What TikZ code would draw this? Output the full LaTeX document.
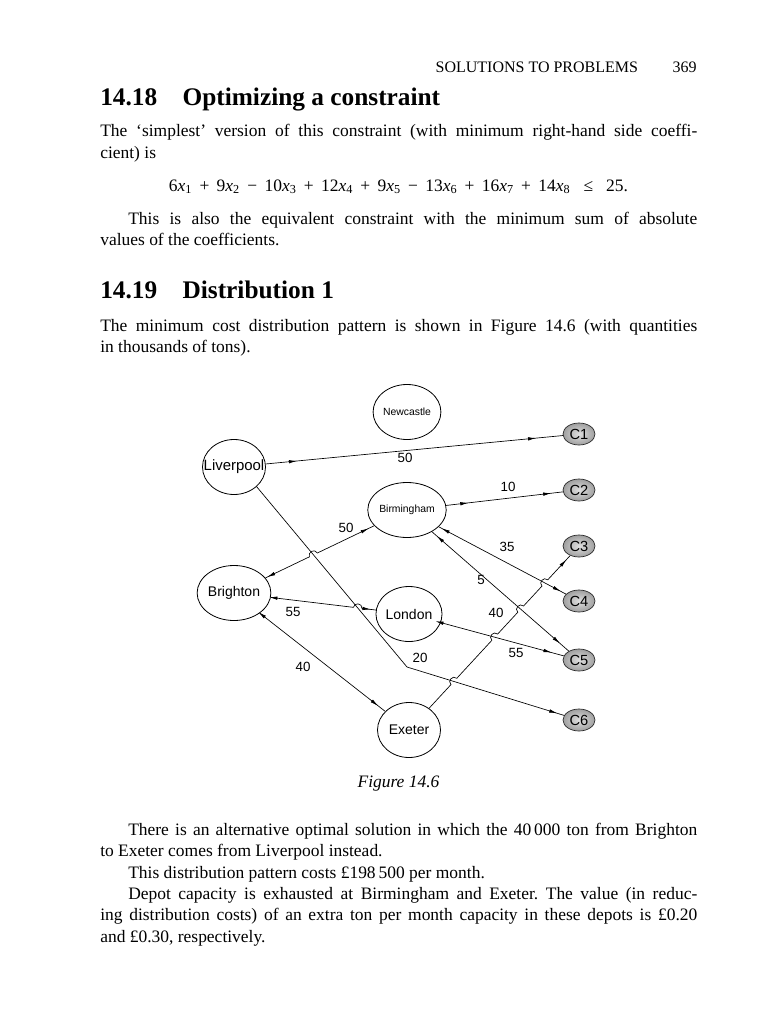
\documentclass[tikz,border=0pt]{standalone}
\usepackage{fontspec}
\setmainfont{Liberation Serif}
\newfontfamily\arialf{Liberation Sans}
\usetikzlibrary{shapes.geometric,arrows.meta,decorations.markings,intersections,calc}
\newcommand\JustLine[1]{\makebox[447.75pt][s]{#1}}
\newcommand\JustInd[1]{\makebox[426.75pt][s]{#1}}
\newcommand\Xsub[1]{\textit{x}\textsubscript{#1}}
\newcommand\Op[1]{\hspace{0.42em}#1\hspace{0.42em}}
\frenchspacing
\begin{document}
\begin{tikzpicture}[x=0.75pt,y=-0.75pt,
  >={Latex[length=6pt,width=2.6pt]},
  town/.style={ellipse,draw,line width=0.6pt,minimum width=47.25pt,minimum height=41.25pt,inner sep=0pt,font=\arialf\fontsize{10.5}{12}\selectfont},
  cust/.style={ellipse,draw=black!85,line width=0.5pt,minimum width=24pt,minimum height=16.5pt,inner sep=0pt,font=\arialf\fontsize{11}{12}\selectfont},
  custshade/.style={inner color=gray!25,outer color=gray!75},
  flow/.style={line width=0.5pt},
  qty/.style={font=\arialf\fontsize{10}{12}\selectfont,inner sep=0pt},
  body/.style={anchor=base west,inner sep=0pt,font=\fontsize{13.1}{16}\selectfont},
  headg/.style={anchor=base west,inner sep=0pt,font=\bfseries\fontsize{19}{22}\selectfont},
  fw/.style={postaction={decorate,decoration={markings,mark=at position #1 with {\arrow{>}}}}},
  bw/.style={postaction={decorate,decoration={markings,mark=at position #1 with {\arrow{<}}}}},
  hop/.style={bend left=90,looseness=1.6}
]
\useasboundingbox[fill=white] (0,0) rectangle (768,1024);

% ---------- page text ----------
\node[anchor=base east,inner sep=0pt,font=\fontsize{12}{14}\selectfont] (hdr) at (697,73) {SOLUTIONS TO PROBLEMS\hspace{26pt}369};
\node[headg] (h1) at (100,105) {14.18\hspace{19pt}Optimizing a constraint};
\node[body] (p1a) at (100,137) {\JustLine{The `simplest' version of this constraint (with minimum right-hand side coeffi-}};
\node[body] (p1b) at (100,158) {cient) is};
\node[anchor=base,inner sep=0pt,font=\fontsize{13.1}{16}\selectfont] (eq) at (398.5,191)
  {6\Xsub{1}\Op{+}9\Xsub{2}\Op{−}10\Xsub{3}\Op{+}12\Xsub{4}\Op{+}9\Xsub{5}\Op{−}13\Xsub{6}\Op{+}16\Xsub{7}\Op{+}14\Xsub{8}\hspace{0.75em}≤\hspace{0.75em}25.};
\node[body] (p2a) at (128,224) {\JustInd{This is also the equivalent constraint with the minimum sum of absolute}};
\node[body] (p2b) at (100,245) {values of the coefficients.};
\node[headg] (h2) at (100,298) {14.19\hspace{19pt}Distribution 1};
\node[body] (p3a) at (100,331) {\JustLine{The minimum cost distribution pattern is shown in Figure 14.6 (with quantities}};
\node[body] (p3b) at (100,352) {in thousands of tons).};
\node[anchor=base,inner sep=0pt,font=\itshape\fontsize{13.1}{16}\selectfont] (cap) at (398.5,787) {Figure 14.6};
\node[body] (p4a) at (128,835) {\JustInd{There is an alternative optimal solution in which the 40\,000 ton from Brighton}};
\node[body] (p4b) at (100,856) {to Exeter comes from Liverpool instead.};
\node[body] (p5) at (128,878) {This distribution pattern costs £198\,500 per month.};
\node[body] (p6a) at (128,899) {\JustInd{Depot capacity is exhausted at Birmingham and Exeter. The value (in reduc-}};
\node[body] (p6b) at (100,920) {\JustLine{ing distribution costs) of an extra ton per month capacity in these depots is £0.20}};
\node[body] (p6c) at (100,942) {and £0.30, respectively.};

% ---------- diagram nodes ----------
\node[town,font=\arialf\fontsize{7.8}{9}\selectfont] (nc) at (407,412) {Newcastle};
\node[town,font=\arialf\fontsize{11.2}{13}\selectfont] (lv) at (234,467) {\makebox[0pt][c]{Liverpool}};
\node[town,font=\arialf\fontsize{7.8}{9}\selectfont] (bi) at (407,510) {Birmingham};
\node[town] (br) at (234,593) {Brighton};
\node[town] (lo) at (409,614) {London};
\node[town] (ex) at (409,730) {Exeter};
% shaded bodies of the customer nodes, drawn under them
\foreach \yy in {434,490,546,601,660,720}
  \shade[custshade] (579,\yy) ellipse [x radius=12pt, y radius=8.25pt];
\node[cust] (c1) at (579,434) {\color{black}C1};
\node[cust] (c2) at (579,490) {\color{black}C2};
\node[cust] (c3) at (579,546) {\color{black}C3};
\node[cust] (c4) at (579,601) {\color{black}C4};
\node[cust] (c5) at (579,660) {\color{black}C5};
\node[cust] (c6) at (579,720) {\color{black}C6};
\coordinate (k6) at (407,667);

% ---------- connectors without hops ----------
\draw[flow,fw=0.105,fw=0.91] (lv) -- (c1);
\draw[flow,fw=0.19,fw=0.9] (bi) -- (c2);
\draw[flow,name path=livc6,fw=0.982] (lv.-41) -- (k6) -- (c6);
\draw[flow,name path=lonc5,bw=0.02,fw=0.9] (lo) -- (c5);
\draw[flow,name path=birc5,bw=0.08,fw=0.935] (bi) -- (c5);
\draw[flow,name path=birc4,bw=0.08,fw=0.96] (bi) -- (c4);
\draw[flow,bw=0.04,fw=0.945] (br) -- (ex);

% ---------- connectors with hops ----------
\path[name path=bribir] (br) -- (bi);
\path[name path=brilon] (br) -- (lo);
\path[name path=exec3] (ex) -- (c3);
\path[name intersections={of=bribir and livc6,by={x1}}];
\path[name intersections={of=brilon and livc6,by={x2}}];
\path[name intersections={of=exec3 and livc6,by={e1}}];
\path[name intersections={of=exec3 and lonc5,by={e2}}];
\path[name intersections={of=exec3 and birc5,by={e3}}];
\path[name intersections={of=exec3 and birc4,by={e4}}];

\draw[flow,bw=0.08,fw=0.95] (br) -- ($(x1)!3.2pt!(br)$) to[hop] ($(x1)!3.2pt!(bi)$) -- (bi);
\draw[flow,bw=0.06,fw=0.95] (br) -- ($(x2)!3.2pt!(br)$) to[hop] ($(x2)!3.2pt!(lo)$) -- (lo);
\draw[flow,fw=0.975] (ex) -- ($(e1)!3.2pt!(ex)$) to[hop] ($(e1)!3.2pt!(c3)$)
   -- ($(e2)!3.2pt!(ex)$) to[hop] ($(e2)!3.2pt!(c3)$)
   -- ($(e3)!3.2pt!(ex)$) to[hop] ($(e3)!3.2pt!(c3)$)
   -- ($(e4)!3.2pt!(ex)$) to[hop] ($(e4)!3.2pt!(c3)$) -- (c3);

% ---------- quantities ----------
\node[qty] (q1) at (405,458) {50};
\node[qty] (q2) at (508,487) {10};
\node[qty] (q3) at (346,528) {50};
\node[qty] (q4) at (507,547) {35};
\node[qty] (q5) at (481,580) {5};
\node[qty] (q6) at (496,613) {40};
\node[qty] (q7) at (293,612) {55};
\node[qty] (q8) at (516,653) {55};
\node[qty] (q9) at (420,658) {20};
\node[qty] (q10) at (303,667) {40};
\end{tikzpicture}
\end{document}
